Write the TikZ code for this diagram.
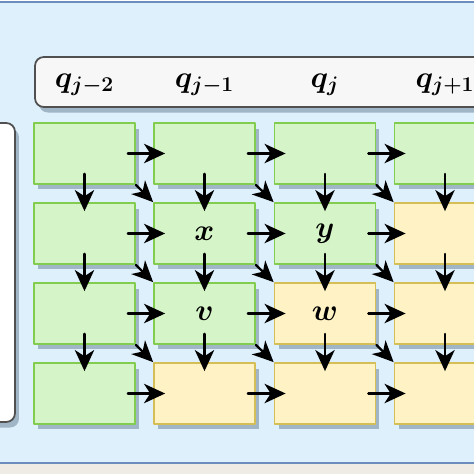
\documentclass[tikz,border=0pt]{standalone}
\usepackage{amssymb,amsmath}
\usepackage{tikz}
\usetikzlibrary{arrows.meta}
\usetikzlibrary{shadows}
\definecolor{bgblue}{RGB}{221,240,252}
\definecolor{frameblue}{RGB}{108,142,191}
\definecolor{stripc}{RGB}{238,236,228}
\definecolor{greenfill}{RGB}{213,245,200}
\definecolor{greenline}{RGB}{130,204,80}
\definecolor{yellowfill}{RGB}{255,243,198}
\definecolor{yellowline}{RGB}{214,190,86}
\definecolor{shadowc}{RGB}{160,181,197}
\definecolor{boxline}{RGB}{80,80,80}
\begin{document}
\begin{tikzpicture}[x=0.02cm,y=-0.02cm,line cap=round,line join=round,>={Stealth[length=12pt,width=11pt,inset=3.5pt]},
    shad/.style={drop shadow={shadow xshift=0.08cm,shadow yshift=-0.11cm,fill=shadowc,opacity=1}},
    cellg/.style={draw=greenline,fill=greenfill,line width=1pt,minimum width=2.02cm,minimum height=1.22cm,inner sep=0pt,shad,font=\fontsize{18}{21}\selectfont\boldmath},
    celly/.style={cellg,draw=yellowline,fill=yellowfill},
    lab/.style={font=\fontsize{16.5}{19}\selectfont\boldmath},
    harr/.style={->,line width=1.3pt,shorten <=-0.16cm,shorten >=-0.24cm},
    varr/.style={->,line width=1.3pt,shorten <=-0.22cm,shorten >=-0.18cm},
    darr/.style={->,line width=1.3pt}]
        \useasboundingbox (0,0) rectangle (474,474);
        \fill[stripc] (-10,463) rectangle (484,484);
        \draw[fill=bgblue,draw=frameblue,line width=1pt] (-10,2) rectangle (484,463);
        % header and side box
        \path[draw=boxline,fill=white!97!black,line width=1pt,rounded corners=5pt,shad] (35,57) rectangle (530,107);
        \path[draw=boxline,fill=white,line width=1pt,rounded corners=5pt,shad] (-40,123) rectangle (15,422);
        \node[lab,anchor=east] (wl) at (7,85) {$W$};
        \node[lab] (q1) at (84.5,85) {$q_{j-2}$};
        \node[lab] (q2) at (204.5,85) {$q_{j-1}$};
        \node[lab] (q3) at (325,85) {$q_{j}$};
        \node[lab] (q4) at (445,85) {$q_{j+1}$};
        % grid
        \node[cellg] (g11) at (84.5,153.5) {};
        \node[cellg] (g12) at (204.5,153.5) {};
        \node[cellg] (g13) at (325,153.5) {};
        \node[cellg] (g14) at (445,153.5) {};
        \node[cellg] (g21) at (84.5,233.5) {};
        \node[cellg] (g22) at (204.5,233.5) {$x$};
        \node[cellg] (g23) at (325,233.5) {$y$};
        \node[celly] (g24) at (445,233.5) {};
        \node[cellg] (g31) at (84.5,313.5) {};
        \node[cellg] (g32) at (204.5,313.5) {$v$};
        \node[celly] (g33) at (325,313.5) {$w$};
        \node[celly] (g34) at (445,313.5) {};
        \node[cellg] (g41) at (84.5,393.5) {};
        \node[celly] (g42) at (204.5,393.5) {};
        \node[celly] (g43) at (325,393.5) {};
        \node[celly] (g44) at (445,393.5) {};
        % arrows
        \draw (g11.east) edge[harr] (g12.west) (g12.east) edge[harr] (g13.west) (g13.east) edge[harr] (g14.west);
        \draw (g21.east) edge[harr] (g22.west) (g22.east) edge[harr] (g23.west) (g23.east) edge[harr] (g24.west);
        \draw (g31.east) edge[harr] (g32.west) (g32.east) edge[harr] (g33.west) (g33.east) edge[harr] (g34.west);
        \draw (g41.east) edge[harr] (g42.west) (g42.east) edge[harr] (g43.west) (g43.east) edge[harr] (g44.west);
        \draw (g11.south) edge[varr] (g21.north) (g21.south) edge[varr] (g31.north) (g31.south) edge[varr] (g41.north);
        \draw (g12.south) edge[varr] (g22.north) (g22.south) edge[varr] (g32.north) (g32.south) edge[varr] (g42.north);
        \draw (g13.south) edge[varr] (g23.north) (g23.south) edge[varr] (g33.north) (g33.south) edge[varr] (g43.north);
        \draw (g14.south) edge[varr] (g24.north) (g24.south) edge[varr] (g34.north) (g34.south) edge[varr] (g44.north);
        \draw (g11.south east) edge[darr] (g22.north west) (g12.south east) edge[darr] (g23.north west) (g13.south east) edge[darr] (g24.north west);
        \draw (g21.south east) edge[darr] (g32.north west) (g22.south east) edge[darr] (g33.north west) (g23.south east) edge[darr] (g34.north west);
        \draw (g31.south east) edge[darr] (g42.north west) (g32.south east) edge[darr] (g43.north west) (g33.south east) edge[darr] (g44.north west);
      \end{tikzpicture}
\end{document}
